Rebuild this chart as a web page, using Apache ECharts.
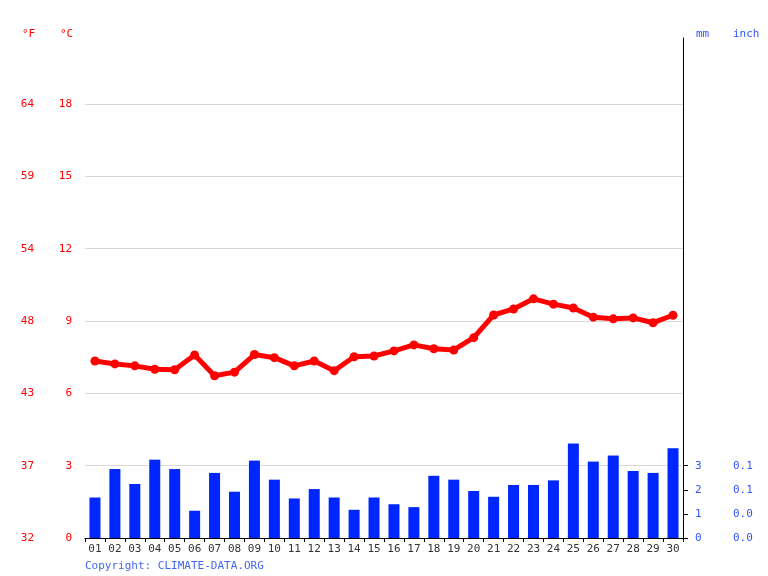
<!DOCTYPE html>
<html>
<head>
<meta charset="utf-8">
<script src="https://cdn.jsdelivr.net/npm/echarts@6/dist/echarts.min.js"></script>
<style>html,body{margin:0;padding:0;background:#fff}#c{width:768px;height:576px}</style>
</head>
<body>
<div id="c"></div>
<script>
var days = ['01','02','03','04','05','06','07','08','09','10','11','12','13','14','15','16','17','18','19','20','21','22','23','24','25','26','27','28','29','30'];
var tempC = [7.34,7.22,7.14,7.00,6.98,7.59,6.73,6.88,7.61,7.48,7.14,7.34,6.94,7.52,7.55,7.76,8.01,7.85,7.80,8.31,9.25,9.50,9.92,9.70,9.54,9.16,9.09,9.13,8.93,9.24];
var precipMm = [1.68,2.86,2.24,3.25,2.86,1.13,2.70,1.92,3.21,2.42,1.64,2.03,1.68,1.17,1.68,1.40,1.28,2.58,2.42,1.95,1.71,2.20,2.20,2.39,3.92,3.17,3.42,2.78,2.70,3.72];
var tempTicksC = [0,3,6,9,12,15,18];
var precipTicksMm = [0,1,2,3];

var FONT = 'DejaVu Sans Mono';
var RED = '#ff0000';
var BLUE = '#3355ff';
var MAX = 20.74;

var chart = echarts.init(document.getElementById('c'), null, {renderer:'canvas'});
chart.setOption({
  animation: false,
  grid: {left: 85, right: 85, top: 38, bottom: 38},
  xAxis: {
    type: 'category',
    data: days,
    axisLine: {show: true, lineStyle: {color: '#000', width: 1}},
    axisTick: {show: true, alignWithLabel: false, length: 4, lineStyle: {color: '#000'}},
    axisLabel: {color: '#333', fontFamily: FONT, fontSize: 11, margin: 6},
    splitLine: {show: false}
  },
  yAxis: [
    {
      type: 'value', position: 'left', min: 0, max: MAX, interval: 3,
      axisLine: {show: false}, axisTick: {show: false},
      axisLabel: {color: RED, fontFamily: FONT, fontSize: 11, margin: 13,
        customValues: tempTicksC},
      splitLine: {show: true, showMaxLine: false, lineStyle: {color: '#d9d9d9', width: 1}}
    },
    {
      type: 'value', position: 'left', offset: 38, min: 0, max: MAX, interval: 3,
      axisLine: {show: false}, axisTick: {show: false},
      axisLabel: {color: RED, fontFamily: FONT, fontSize: 11, margin: 13,
        customValues: tempTicksC,
        formatter: function(v){ return Math.round(v*9/5+32).toString(); }},
      splitLine: {show: false}
    },
    {
      type: 'value', position: 'right', min: 0, max: MAX, interval: 1,
      axisLine: {show: true, lineStyle: {color: '#000', width: 1}},
      axisTick: {show: true, length: 5, lineStyle: {color: '#000'}, customValues: precipTicksMm},
      axisLabel: {color: BLUE, fontFamily: FONT, fontSize: 11, margin: 12,
        customValues: precipTicksMm},
      splitLine: {show: false}
    },
    {
      type: 'value', position: 'right', offset: 38, min: 0, max: MAX, interval: 1,
      axisLine: {show: false}, axisTick: {show: false},
      axisLabel: {color: BLUE, fontFamily: FONT, fontSize: 11, margin: 12,
        customValues: precipTicksMm,
        formatter: function(v){ return (v/25.4).toFixed(1); }},
      splitLine: {show: false}
    }
  ],
  graphic: [
    {type:'text', left: 22, top: 29, style:{text:'°F', fill: RED, font: '11px "DejaVu Sans Mono"'}},
    {type:'text', left: 60, top: 29, style:{text:'°C', fill: RED, font: '11px "DejaVu Sans Mono"'}},
    {type:'text', left: 696, top: 29, style:{text:'mm', fill: BLUE, font: '11px "DejaVu Sans Mono"'}},
    {type:'text', left: 733, top: 29, style:{text:'inch', fill: BLUE, font: '11px "DejaVu Sans Mono"'}},
    {type:'text', left: 85, top: 561, style:{text:'Copyright: CLIMATE-DATA.ORG', fill: '#4466ee', font: '11px "DejaVu Sans Mono"'}}
  ],
  series: [
    {
      type: 'bar', yAxisIndex: 2, data: precipMm, barWidth: 11,
      itemStyle: {color: '#0026ff'}
    },
    {
      type: 'line', yAxisIndex: 0, data: tempC, symbol: 'circle', symbolSize: 9,
      lineStyle: {color: RED, width: 5}, itemStyle: {color: RED}, z: 5
    }
  ]
});
</script>
</body>
</html>
